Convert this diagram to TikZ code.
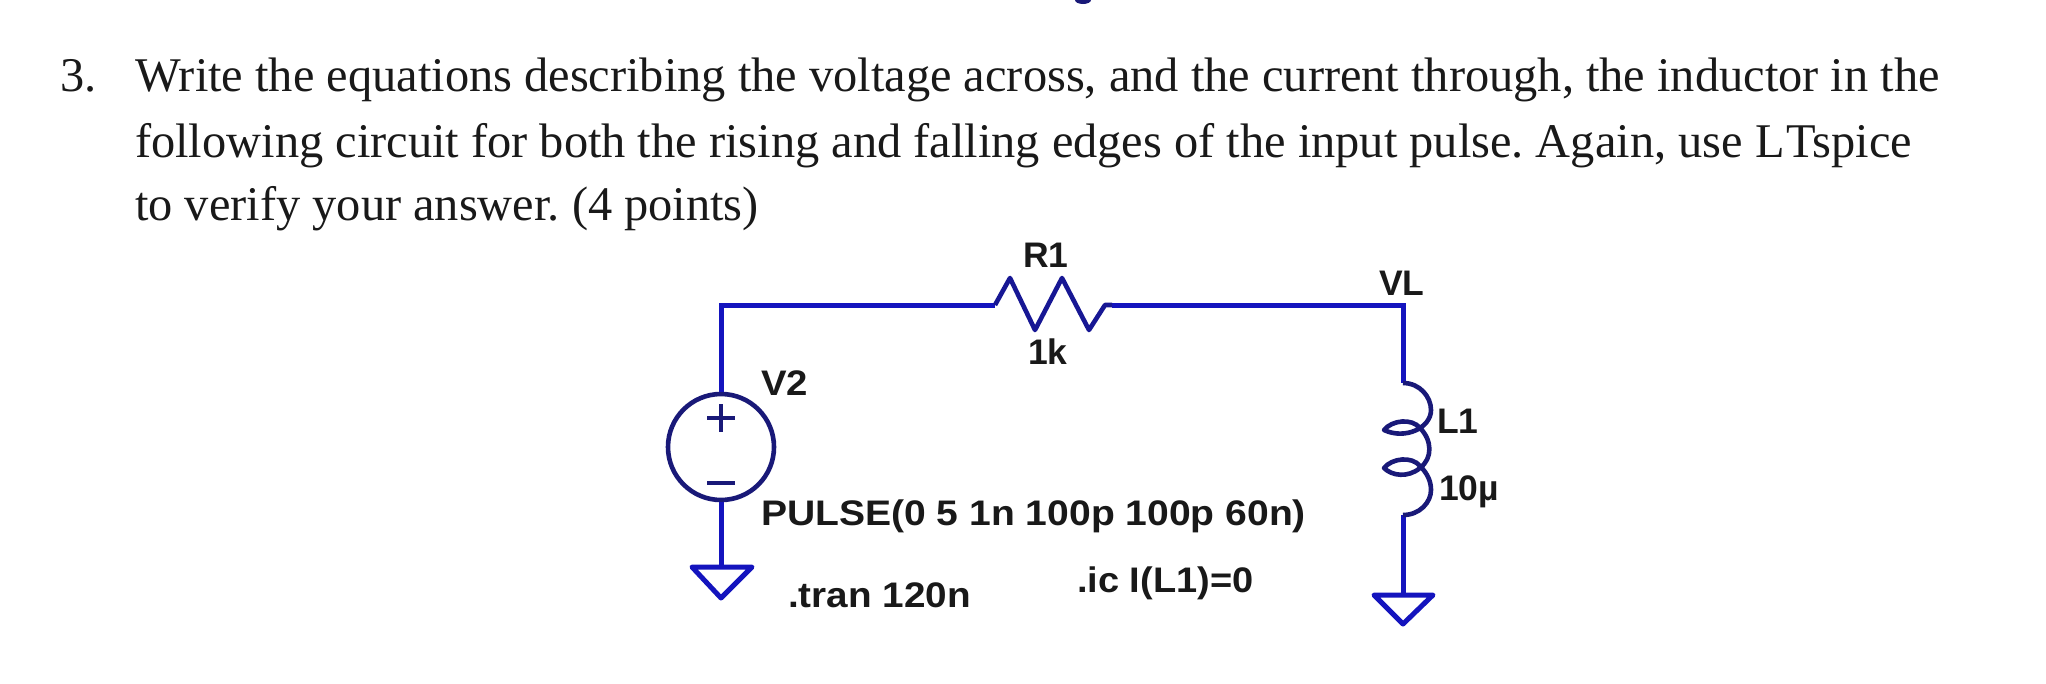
\documentclass[tikz,border=0pt]{standalone}
\usepackage{fontspec}
\setmainfont{Liberation Serif}
\newfontfamily\lblfont{Liberation Sans}
\frenchspacing
\definecolor{wire}{RGB}{20,20,190}
\definecolor{sym}{RGB}{25,25,120}
\definecolor{ink}{RGB}{25,25,25}
\tikzset{
  prose/.style={anchor=base west,inner sep=0pt,text=ink,font=\fontsize{48.4}{52}\selectfont},
  lbl/.style={anchor=base west,inner sep=0pt,text=ink,font=\lblfont\bfseries\fontsize{35.5}{40}\selectfont},
  wireline/.style={draw=wire,line width=5pt,line join=miter},
  symline/.style={draw=sym,line width=4.6pt,line join=round},
}
\begin{document}
\begin{tikzpicture}[x=1pt,y=-1pt]
\useasboundingbox[fill=white] (0,0) rectangle (2046,683);
\fill[sym] (1083,0) ellipse [x radius=8,y radius=4];
% prose
\node[prose] (n3) at (60,91) {3.};
\node[prose] (l1) at (135,91) {Write the equations describing the voltage across, and the current through, the inductor in the};
\node[prose] (l2) at (135,157) {following circuit for both the rising and falling edges of the input pulse. Again, use L\kern2pt Tspice};
\node[prose] (l3) at (135,220) {to verify your answer. (4 points)};
% labels
\node[lbl] (r1) at (1023,267) {R1};
\node[lbl] (rv) at (1028,364) {1k};
\node[lbl] (vl) at (1379,295) {VL};
\node[lbl] (v2) at (761,395) {\scalebox{1.08}[1]{V2}};
\node[lbl] (ll) at (1437,433) {L1};
\node[lbl] (lv) at (1439,500) {10µ};
\node[lbl] (pu) at (761,525) {\scalebox{1.1}[1]{PULSE(0 5 1n 100p 100p 60n)}};
\node[lbl] (tr) at (788,607) {\scalebox{1.09}[1]{.tran 120n}};
\node[lbl] (ic) at (1077,592) {\scalebox{1.07}[1]{.ic I(L1)=0}};
% anchors
\coordinate (cornerL) at (721,305);
\coordinate (cornerR) at (1403,305);
\coordinate (resA) at (995,305);
\coordinate (resB) at (1112,305);
\coordinate (indA) at (1403,383);
\coordinate (indB) at (1403,515);
\coordinate (gndL) at (721,567);
\coordinate (gndR) at (1403,595);
\node[circle,draw=sym,line width=4.6pt,minimum size=106pt,inner sep=0pt] (src) at (721,447) {};
% wires
\draw[wireline] (src.north) -- (cornerL) -- (resA);
\draw[wireline] (resB) -- (cornerR) -- (indA);
\draw[wireline] (src.south) -- (gndL);
\draw[wireline] (indB) -- (gndR);
% resistor
\draw[symline,draw=sym!60!wire] (resA) -- (1010,278) -- (1035,330) -- (1062,278) -- (1089,330) -- (1105,305) -- (resB);
% source signs
\draw[symline] (707,418) -- (735,418) (721,404) -- (721,432);
\draw[symline] (707,483) -- (735,483);
% inductor
\draw[symline] (indA) .. controls (1420,383) and (1431,397) .. (1431,410)
  .. controls (1431,428) and (1405,440) .. (1384,430)
  .. controls (1392,420) and (1412,418) .. (1420,428)
  .. controls (1432,440) and (1433,458) .. (1420,468)
  .. controls (1408,478) and (1392,476) .. (1384,468)
  .. controls (1392,458) and (1412,456) .. (1420,466)
  .. controls (1428,474) and (1431,482) .. (1431,490)
  .. controls (1431,502) and (1420,515) .. (indB);
% grounds
\draw[wireline,line join=round] (692,567) -- (752,567) -- (721,598) -- cycle;
\draw[wireline,line join=round] (1374,595) -- (1433,595) -- (1403,624) -- cycle;
\end{tikzpicture}
\end{document}
